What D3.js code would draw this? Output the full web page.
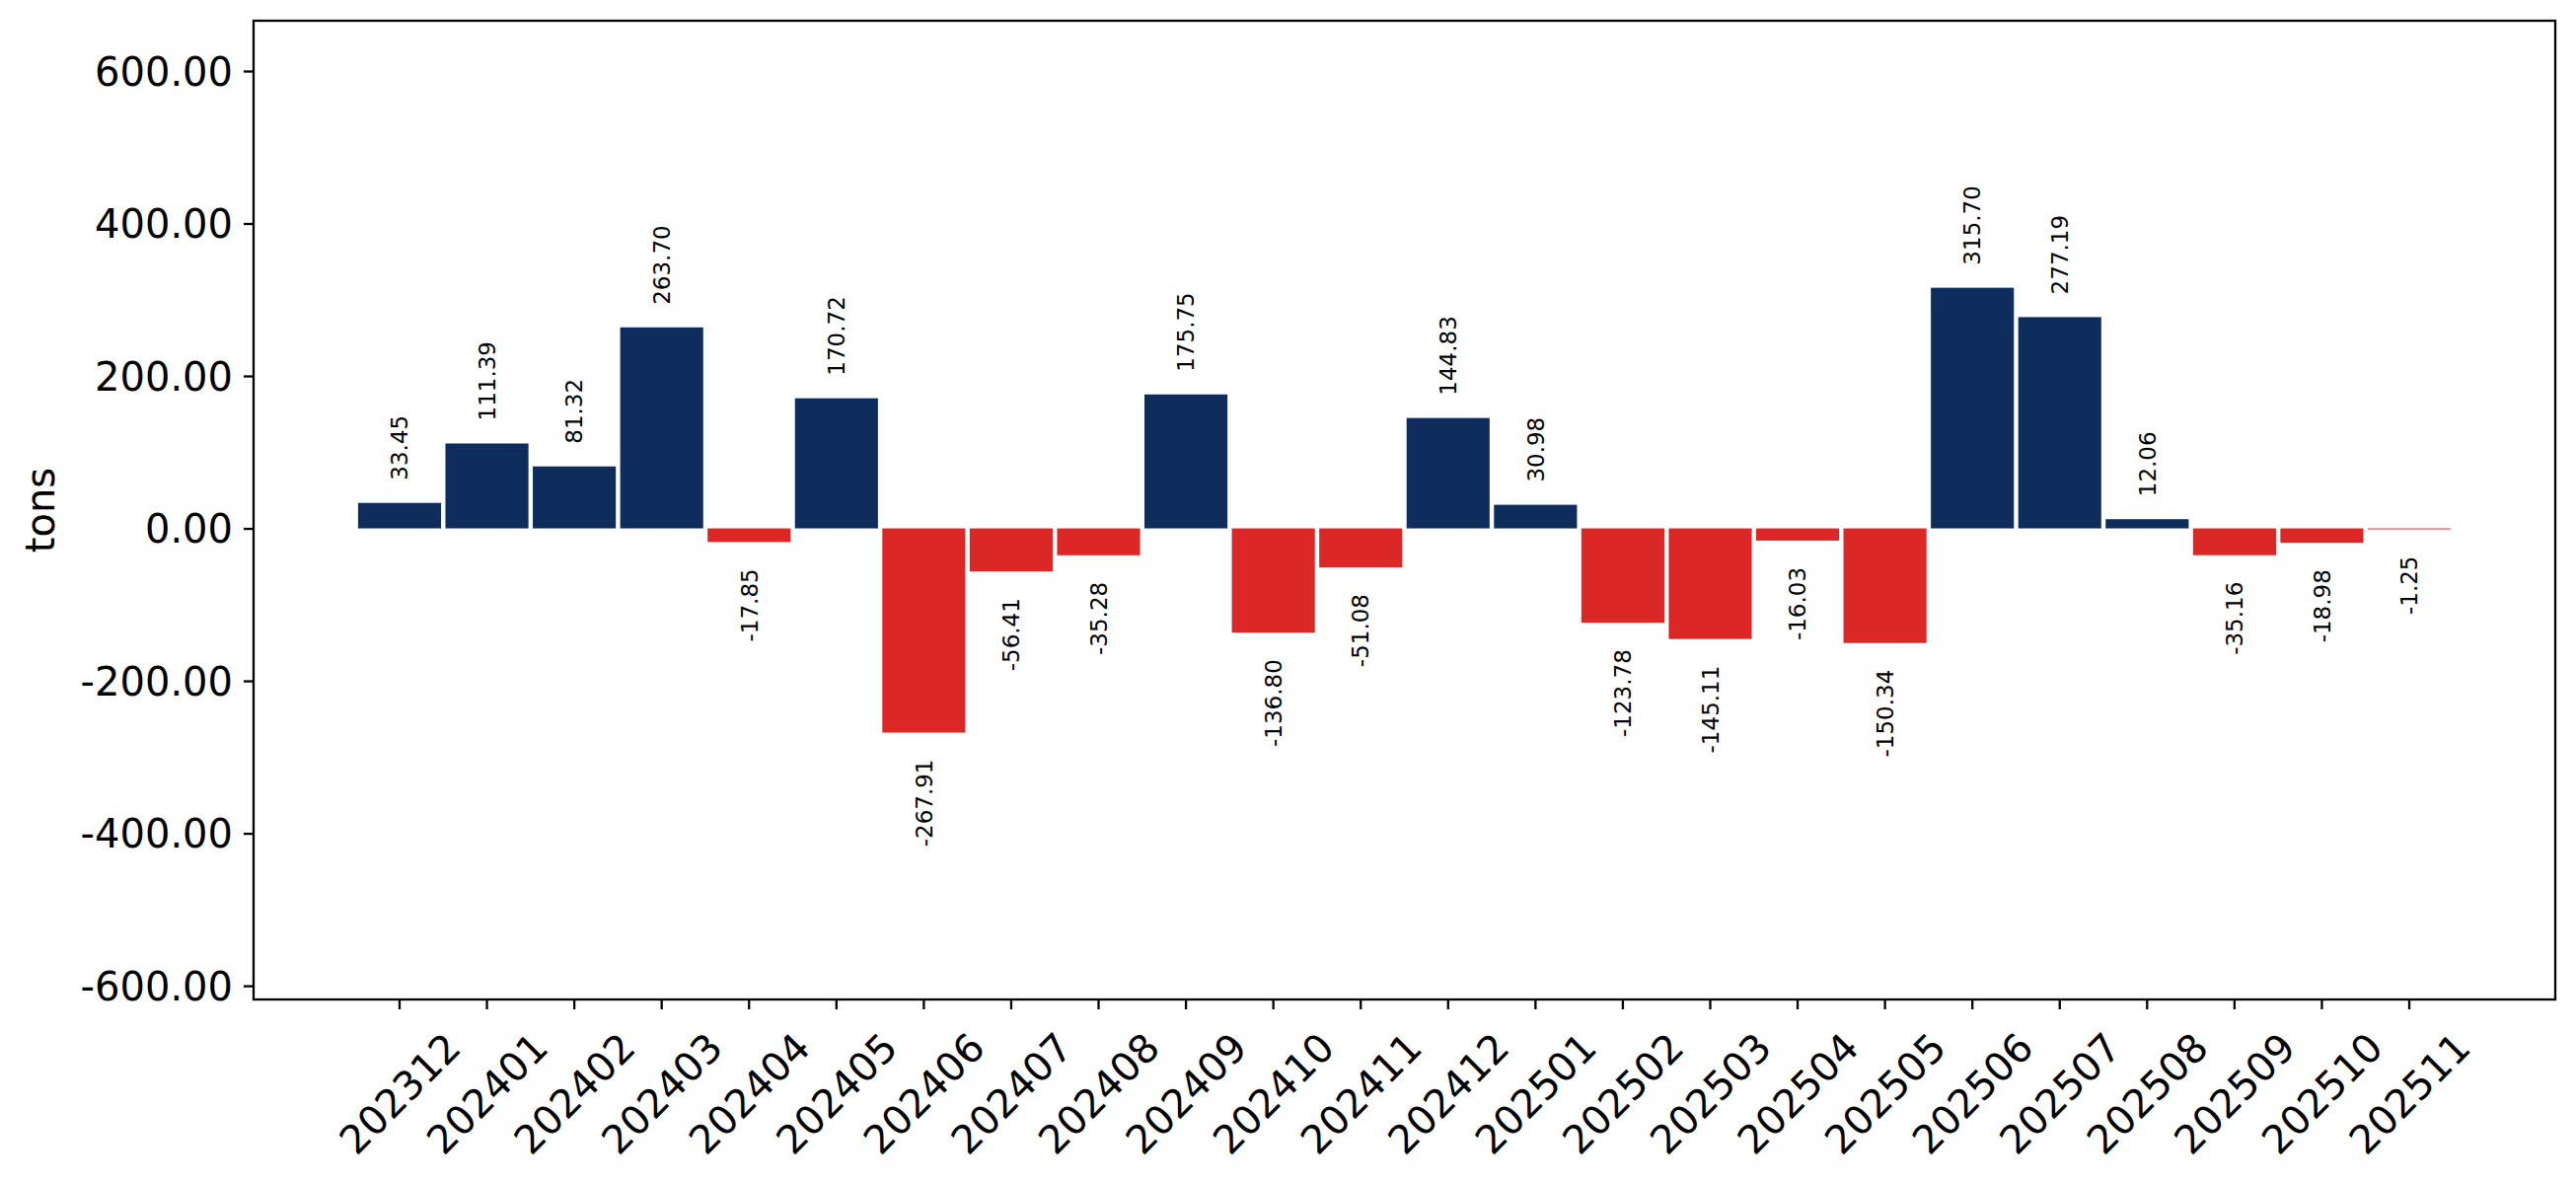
<!DOCTYPE html>
<html>
<head>
<meta charset="utf-8">
<script src="https://cdn.jsdelivr.net/npm/d3@7"></script>
<style>
  html, body { margin: 0; padding: 0; background: #ffffff; }
  svg { display: block; }
  text { font-family: "DejaVu Sans", sans-serif; fill: #000; }
</style>
</head>
<body>
<svg id="chart" width="2611" height="1199"></svg>
<script>
// ---- data ----
const categories = ["202312","202401","202402","202403","202404","202405","202406","202407",
  "202408","202409","202410","202411","202412","202501","202502","202503","202504","202505",
  "202506","202507","202508","202509","202510","202511"];
const values = [33.45, 111.39, 81.32, 263.70, -17.85, 170.72, -267.91, -56.41,
  -35.28, 175.75, -136.80, -51.08, 144.83, 30.98, -123.78, -145.11, -16.03, -150.34,
  315.70, 277.19, 12.06, -35.16, -18.98, -1.25];
const yTicks = [-600, -400, -200, 0, 200, 400, 600];
const yLabel = "tons";

// ---- layout ----
const W = 2611, H = 1199;
const L = 257, R = 2590, T = 21, B = 1013;
const posColor = "#0e2d5c", negColor = "#dc2727";

const svg = d3.select("#chart");
svg.append("rect").attr("width", W).attr("height", H).attr("fill", "#fff");

const x = d3.scaleBand().domain(categories).range([L, R]).paddingInner(0.05).paddingOuter(1.196);
const y = d3.scaleLinear().domain([-618, 666]).range([B, T]);

// bars
svg.append("g").selectAll("rect").data(values).join("rect")
  .attr("x", (d, i) => x(categories[i]))
  .attr("width", x.bandwidth())
  .attr("y", d => y(Math.max(0, d)))
  .attr("height", d => Math.abs(y(d) - y(0)))
  .attr("fill", d => d >= 0 ? posColor : negColor);

// bar labels
svg.append("g").selectAll("text").data(values).join("text")
  .attr("transform", (d, i) => {
    const cx = x(categories[i]) + x.bandwidth() / 2;
    const yy = d >= 0 ? y(d) - 23 : y(d) + 27;
    return `translate(${cx},${yy}) rotate(-90)`;
  })
  .attr("text-anchor", d => d >= 0 ? "start" : "end")
  .attr("dy", "0.36em")
  .style("font-size", "23px")
  .text(d => d.toFixed(2));

// y axis
const yAxis = d3.axisLeft(y).tickValues(yTicks).tickFormat(d => d.toFixed(2))
  .tickSize(10).tickPadding(10);
const gy = svg.append("g").attr("transform", `translate(${L},0)`).call(yAxis);
gy.select(".domain").remove();
gy.selectAll(".tick line").attr("stroke", "#000").attr("stroke-width", 2.3);
gy.selectAll(".tick text").style("font-size", "40px").style("font-family", "DejaVu Sans")
  .attr("dy", "0.36em").attr("x", -21);

// x axis
const xAxis = d3.axisBottom(x).tickSize(10).tickPadding(0);
const gx = svg.append("g").attr("transform", `translate(0,${B})`).call(xAxis);
gx.select(".domain").remove();
gx.selectAll(".tick line").attr("stroke", "#000").attr("stroke-width", 2.3);
gx.selectAll(".tick text")
  .style("font-size", "40px").style("font-family", "DejaVu Sans")
  .attr("text-anchor", "middle")
  .attr("y", 0).attr("dy", "0.36em")
  .attr("transform", "translate(0,95) rotate(-45)");

// frame
svg.append("rect").attr("x", L).attr("y", T).attr("width", R - L).attr("height", B - T)
  .attr("fill", "none").attr("stroke", "#000").attr("stroke-width", 2.3);

// y label
svg.append("text")
  .attr("transform", `translate(55,${(T + B) / 2}) rotate(-90)`)
  .attr("text-anchor", "middle")
  .style("font-size", "40px")
  .text(yLabel);
</script>
</body>
</html>
